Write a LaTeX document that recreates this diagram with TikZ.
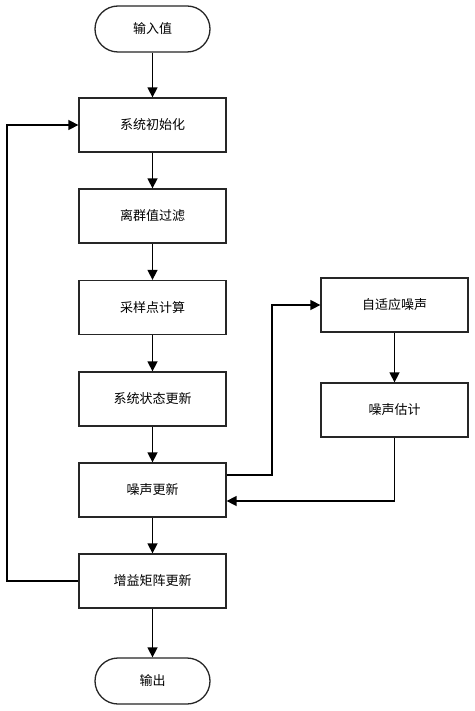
\documentclass[tikz,border=0pt]{standalone}
\usepackage{fontspec}
\newfontfamily\cjk{Noto Sans CJK SC}
\usetikzlibrary{arrows.meta}
\begin{document}
\begin{tikzpicture}[x=1pt,y=-1pt,
  box/.style={draw=black!85, line width=1.3pt, minimum width=147pt, minimum height=54pt, inner sep=0pt, font=\cjk\fontsize{13}{15}\selectfont},
  term/.style={box, minimum width=115pt, minimum height=46pt, rounded corners=23pt},
  conn/.style={draw=black, line width=1.5pt, -{Triangle[length=10pt,width=10pt]}}]
\useasboundingbox (0,0) rectangle (474,711);
\fill[white] (0,0) rectangle (474,711);
\node[term] (start) at (152.5,29) {输入值};
\node[box] (init) at (152.5,125) {系统初始化};
\node[box] (filter) at (152.5,216) {离群值过滤};
\node[box] (sample) at (152.5,307.5) {采样点计算};
\node[box] (state) at (152.5,399) {系统状态更新};
\node[box] (noise) at (152.5,490) {噪声更新};
\node[box] (gain) at (152.5,581) {增益矩阵更新};
\node[term] (out) at (152.5,681) {输出};
\node[box] (adapt) at (394.5,305) {自适应噪声};
\node[box] (est) at (394.5,410) {噪声估计};
\draw[conn] (start) -- (init);
\draw[conn] (init) -- (filter);
\draw[conn] (filter) -- (sample);
\draw[conn] (sample) -- (state);
\draw[conn] (state) -- (noise);
\draw[conn] (noise) -- (gain);
\draw[conn] (gain) -- (out);
\draw[conn] (adapt) -- (est);
\draw[conn] (gain.west) -| (7,125) -- (init.west);
\draw[conn] ([yshift=15pt]noise.east) -| (272,305) -- (adapt.west);
\draw[conn] (est.south) |- ([yshift=-11pt]noise.east);
\end{tikzpicture}
\end{document}
